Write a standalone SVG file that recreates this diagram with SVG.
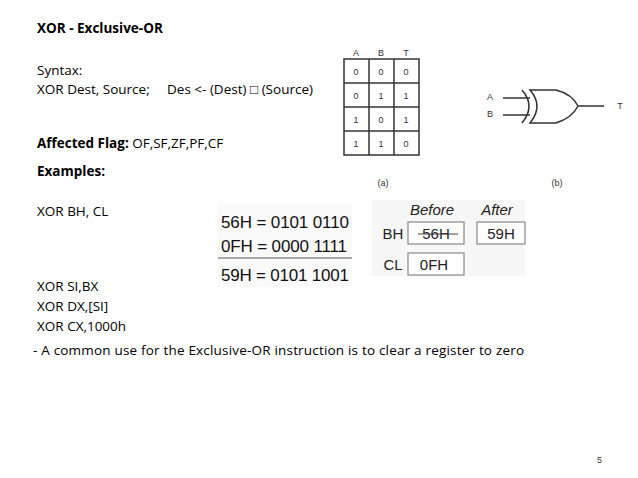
<svg xmlns="http://www.w3.org/2000/svg" width="638" height="478" viewBox="0 0 638 478">
<style>
.t{font-family:"Open Sans","Liberation Sans",Arial,sans-serif;font-size:13.5px;fill:#000}
.s{font-family:"Liberation Sans",Arial,sans-serif;font-size:9px;fill:#333}
.a{font-family:"Liberation Sans",Arial,sans-serif;font-size:17px;fill:#111}
.r{font-family:"Liberation Sans",Arial,sans-serif;font-size:15px;fill:#222}
.ln{stroke:#333;stroke-width:1.5;fill:none}
.bx{fill:#fff;stroke:#888;stroke-width:1.2}
</style>
<rect width="638" height="478" fill="#fff"/>
<g id="text">
<text class="t" x="37" y="33" font-weight="bold">XOR - Exclusive-OR</text>
<text class="t" x="37" y="75">Syntax:</text>
<text class="t" x="37" y="94">XOR  Dest, Source;</text>
<text class="t" x="167" y="94">Des &lt;- (Dest) □ (Source)</text>
<text class="t" x="37" y="148"><tspan font-weight="bold">Affected Flag:</tspan> OF,SF,ZF,PF,CF</text>
<text class="t" x="37" y="176" font-weight="bold">Examples:</text>
<text class="t" x="37" y="216">XOR BH, CL</text>
<text class="t" x="37" y="291">XOR SI,BX</text>
<text class="t" x="37" y="311">XOR DX,[SI]</text>
<text class="t" x="37" y="331">XOR CX,1000h</text>
<text class="t" x="33" y="355" textLength="491">- A common use for the Exclusive-OR instruction is to clear a register to zero</text>
<text class="s" x="597" y="463" font-size="10">5</text>
</g>
<g id="truth-table">
<text class="s" x="356" y="56" text-anchor="middle">A</text>
<text class="s" x="381" y="56" text-anchor="middle">B</text>
<text class="s" x="406" y="56" text-anchor="middle">T</text>
<g class="ln">
<rect x="344" y="59" width="75" height="96"/>
<line x1="369" y1="59" x2="369" y2="155"/><line x1="394" y1="59" x2="394" y2="155"/>
<line x1="344" y1="83" x2="419" y2="83"/><line x1="344" y1="107" x2="419" y2="107"/><line x1="344" y1="131" x2="419" y2="131"/>
</g>
<g class="s" text-anchor="middle">
<text x="356" y="75">0</text><text x="381" y="75">0</text><text x="406" y="75">0</text>
<text x="356" y="99">0</text><text x="381" y="99">1</text><text x="406" y="99">1</text>
<text x="356" y="123">1</text><text x="381" y="123">0</text><text x="406" y="123">1</text>
<text x="356" y="147">1</text><text x="381" y="147">1</text><text x="406" y="147">0</text>
</g>
<text class="s" x="383" y="186" text-anchor="middle">(a)</text>
</g>
<g id="xor-gate">
<text class="s" x="490" y="100" text-anchor="middle">A</text>
<text class="s" x="490" y="117" text-anchor="middle">B</text>
<path class="ln" d="M503 98H530M503 115H530M522 90Q536 106 522 123M530 90H556Q572 94 578 106Q572 118 556 123H530Q544 106 530 90ZM578 106H604"/>
<text class="s" x="620" y="109" text-anchor="middle">T</text>
<text class="s" x="557" y="186" text-anchor="middle">(b)</text>
</g>
<g id="arith">
<rect x="218" y="203" width="134" height="84" fill="#fafafa"/>
<text class="a" x="221" y="228" textLength="128">56H = 0101 0110</text>
<text class="a" x="221" y="252" textLength="126">0FH = 0000 1111</text>
<line x1="218" y1="258" x2="352" y2="258" stroke="#555" stroke-width="1"/>
<text class="a" x="221" y="281" textLength="128">59H = 0101 1001</text>
</g>
<g id="registers">
<rect x="372" y="200" width="153" height="76" fill="#f7f7f7"/>
<text class="r" x="432" y="215" text-anchor="middle" font-style="italic">Before</text>
<text class="r" x="497" y="215" text-anchor="middle" font-style="italic">After</text>
<text class="r" x="393" y="239" text-anchor="middle">BH</text>
<rect class="bx" x="408" y="222" width="56" height="22"/>
<text class="r" x="436" y="239" text-anchor="middle">56H</text>
<line x1="418" y1="234" x2="458" y2="234" stroke="#444"/>
<rect class="bx" x="477" y="222" width="48" height="22"/>
<text class="r" x="501" y="239" text-anchor="middle">59H</text>
<text class="r" x="393" y="270" text-anchor="middle">CL</text>
<rect class="bx" x="408" y="253" width="56" height="22"/>
<text class="r" x="434" y="270" text-anchor="middle">0FH</text>
</g>
</svg>
